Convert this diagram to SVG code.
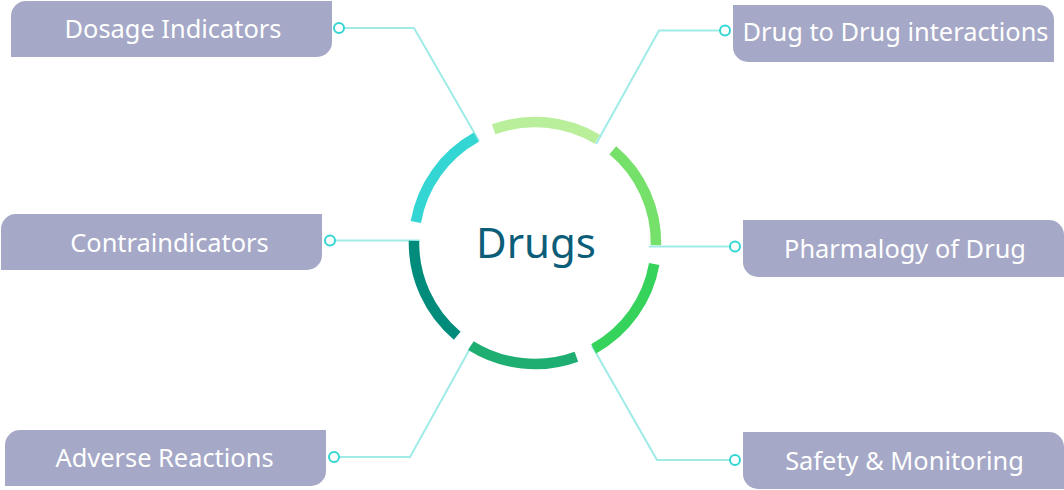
<svg xmlns="http://www.w3.org/2000/svg" width="1064" height="490" viewBox="0 0 1064 490">
<style>
.box{fill:#a5a8c6}
.lbl{font-family:"Noto Sans","Open Sans",sans-serif;font-size:25.4px;fill:#ffffff;text-anchor:middle}
.con{fill:none;stroke:#9febe8;stroke-width:2}
.dot{fill:#ffffff;stroke:#33d6d3;stroke-width:2}
.arc{fill:none;stroke-width:10.5}
</style>
<rect width="1064" height="490" fill="#ffffff"/>
<g id="connectors">
<path class="con" d="M344,28 H414 L479,141"/>
<path class="con" d="M720,30.5 H659 L596,144"/>
<path class="con" d="M335,240.5 H420"/>
<path class="con" d="M649,246.5 H730"/>
<path class="con" d="M339,457 H410 L472,345"/>
<path class="con" d="M730,460 H657 L592,346"/>
<circle class="dot" cx="339" cy="28" r="5"/>
<circle class="dot" cx="725" cy="30.5" r="5"/>
<circle class="dot" cx="330" cy="240.5" r="5"/>
<circle class="dot" cx="735" cy="246.5" r="5"/>
<circle class="dot" cx="334" cy="457" r="5"/>
<circle class="dot" cx="735" cy="460" r="5"/>
</g>
<g id="center">
<path class="arc" stroke="#b9ee9b" d="M597.3,139.3 A121,121 0 0 0 493.6,129.3"/>
<path class="arc" stroke="#33d6d3" d="M476.3,137.2 A121,121 0 0 0 415.8,222.0"/>
<path class="arc" stroke="#008b7b" d="M414.0,240.9 A121,121 0 0 0 457.2,335.7"/>
<path class="arc" stroke="#1fae72" d="M470.9,345.6 A121,121 0 0 0 576.4,356.7"/>
<path class="arc" stroke="#35d35b" d="M593.7,348.8 A121,121 0 0 0 654.2,264.0"/>
<path class="arc" stroke="#76e16a" d="M656.0,245.1 A121,121 0 0 0 612.8,150.3"/>
<text x="536" y="258" font-family="Noto Sans, Open Sans, sans-serif" font-size="42" fill="#0b5d78" text-anchor="middle">Drugs</text>
</g>
<g id="dosage">
<path class="box" d="M11,16 A15,15 0 0 1 26,1 H332 V42 A15,15 0 0 1 317,57 H11 Z"/>
<text class="lbl" x="173" y="37.5">Dosage Indicators</text>
</g>
<g id="contraindicators">
<path class="box" d="M1,229 A15,15 0 0 1 16,214 H322 V255 A15,15 0 0 1 307,270 H1 Z"/>
<text class="lbl" x="169.5" y="251.5">Contraindicators</text>
</g>
<g id="adverse">
<path class="box" d="M5,445 A15,15 0 0 1 20,430 H326 V471 A15,15 0 0 1 311,486 H5 Z"/>
<text class="lbl" x="164.5" y="467">Adverse Reactions</text>
</g>
<g id="interactions">
<path class="box" d="M733,5 H1039 A15,15 0 0 1 1054,20 V62 H748 A15,15 0 0 1 733,47 Z"/>
<text class="lbl" x="895.5" y="41">Drug to Drug interactions</text>
</g>
<g id="pharmalogy">
<path class="box" d="M743,220 H1049 A15,15 0 0 1 1064,235 V277 H758 A15,15 0 0 1 743,262 Z"/>
<text class="lbl" x="905" y="258">Pharmalogy of Drug</text>
</g>
<g id="safety">
<path class="box" d="M743,432 H1049 A15,15 0 0 1 1064,447 V489 H758 A15,15 0 0 1 743,474 Z"/>
<text class="lbl" x="904.5" y="470">Safety &amp; Monitoring</text>
</g>
</svg>
